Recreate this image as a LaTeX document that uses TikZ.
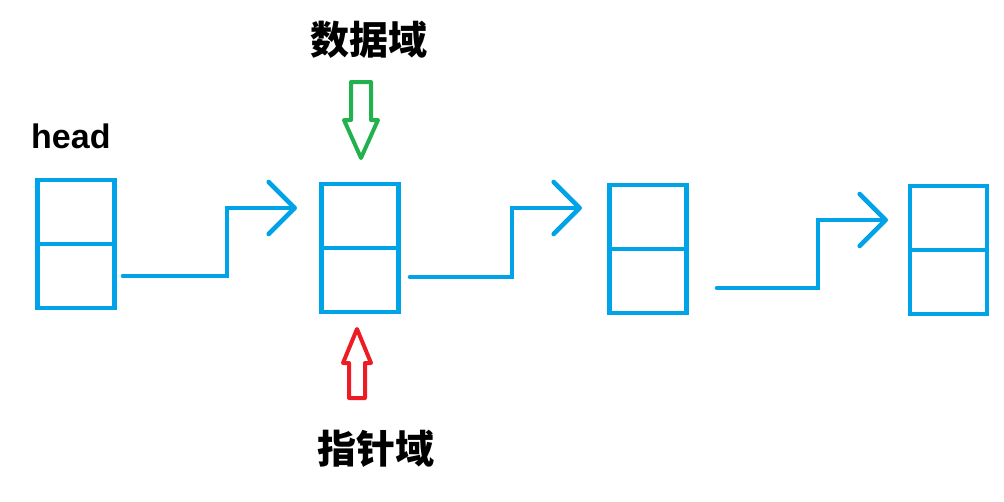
\documentclass[tikz,border=0pt]{standalone}
\usepackage{fontspec}
\setmainfont{Liberation Sans}
\newfontfamily\cjk{Noto Sans CJK SC}
\usetikzlibrary{arrows.meta}
\definecolor{nodeblue}{HTML}{00A2E8}
\definecolor{pgreen}{HTML}{22B14C}
\definecolor{pred}{HTML}{ED1C24}
\tikzset{
  cell/.style={draw=nodeblue, line width=4.6pt, rectangle, minimum width=77pt, minimum height=128pt, inner sep=0pt},
  divider/.style={draw=nodeblue, line width=4.6pt},
  link/.style={draw=nodeblue, line width=4.6pt, line cap=round, line join=miter,
    -{Straight Barb[length=26pt, width=52pt, round]}},
  hollow/.style={line width=4pt, line join=round, fill=white},
  cjklabel/.style={font=\cjk\bfseries\fontsize{39}{42}\selectfont, inner sep=0pt},
  headlabel/.style={font=\bfseries\fontsize{34}{36}\selectfont, inner sep=0pt, anchor=base west}
}
\begin{document}
\begin{tikzpicture}[x=1pt, y=-1pt]
\useasboundingbox (0,0) rectangle (1004,501);
% nodes
\node[cell] (n1) at (76,244) {};
\node[cell] (n2) at (360,248) {};
\node[cell] (n3) at (648,249) {};
\node[cell] (n4) at (948.5,250) {};
\foreach \n in {n1,n2,n3,n4}{
  \draw[divider] (\n.west) -- (\n.east);
}
% labels
\node[headlabel] (head) at (31,148) {head};
\node[cjklabel] (data) at (369,40) {数据域};
\node[cjklabel] (ptr) at (376,449) {指针域};
% connectors
\coordinate (s1) at (123,276);
\coordinate (k1) at (227,276);
\coordinate (t1) at (297,208);
\coordinate (s2) at (410,277);
\coordinate (k2) at (512,277);
\coordinate (t2) at (582,208);
\coordinate (s3) at (717,288);
\coordinate (k3) at (818,288);
\coordinate (t3) at (888,220);
\draw[link] (s1) -- (k1) |- (t1);
\draw[link] (s2) -- (k2) |- (t2);
\draw[link] (s3) -- (k3) |- (t3);
% hollow arrows
\draw[hollow, draw=pgreen] (351,82) -- (371,82) -- (371,120) -- (378,120) -- (361,158) -- (344,120) -- (351,120) -- cycle;
\draw[hollow, draw=pred] (357,329) -- (371,363) -- (365,363) -- (365,398) -- (349,398) -- (349,363) -- (343,363) -- cycle;
\end{tikzpicture}
\end{document}
